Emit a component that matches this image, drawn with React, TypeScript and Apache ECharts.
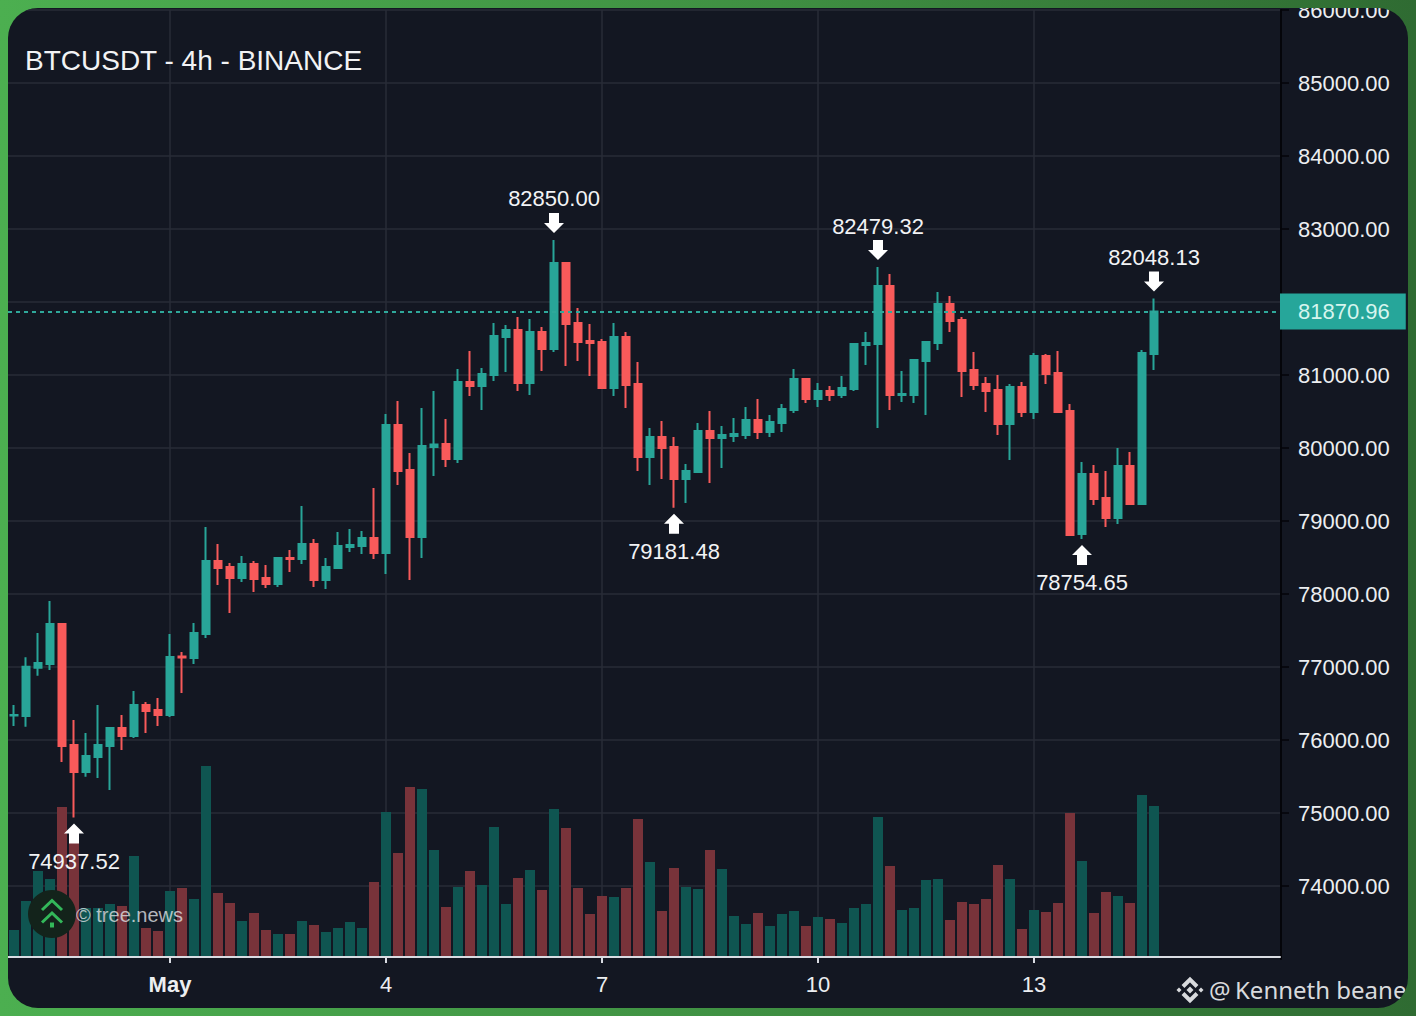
import React, { useEffect, useRef } from "react";
import * as echarts from "echarts";

const FONT = "'Liberation Sans', Arial, sans-serif";

// [open, close, low, high]
const candles: number[][] = [
  [76334,76342,76192,76479],[76329,77004,76182,77133],[76990,77055,76881,77466],[77041,77589,76959,77904],
  [77589,75918,75699,77603],[75932,75562,74937.52,76274],[75562,75781,75498,76096],[75767,75932,75479,76479],
  [75918,76164,75315,76178],[76164,76055,75863,76342],[76055,76479,76027,76671],[76479,76397,76096,76521],
  [76411,76342,76192,76575],[76342,77137,76315,77452],[77144,77130,76644,77205],[77123,77466,77041,77603],
  [77452,78452,77397,78918],[78452,78356,78123,78685],[78370,78219,77740,78425],[78219,78411,78164,78521],
  [78411,78205,78027,78452],[78219,78137,78082,78397],[78137,78493,78096,78500],[78493,78479,78301,78603],
  [78479,78685,78411,79205],[78685,78192,78096,78753],[78192,78370,78068,78493],[78356,78658,78342,78849],
  [78644,78671,78575,78890],[78658,78767,78548,78863],[78767,78562,78479,79452],[78562,80315,78274,80466],
  [80315,79685,79493,80644],[79699,78781,78192,79932],[78781,80027,78493,80548],[80014,80048,79616,80781],
  [80055,79849,79740,80397],[79849,80904,79795,81082],[80904,80849,80712,81329],[80849,81014,80521,81096],
  [81000,81534,80918,81712],[81521,81616,81041,81685],[81616,80890,80781,81795],[80890,81589,80726,81767],
  [81589,81356,81055,81658],[81356,82534,81315,82850],[82534,81699,81123,82548],[81712,81452,81192,81918],
  [81466,81438,80986,81699],[81452,80822,80815,81493],[80822,81521,80712,81712],[81521,80863,80548,81589],
  [80877,79877,79685,81178],[79877,80151,79493,80274],[80151,80000,79575,80370],[80014,79575,79181.48,80151],
  [79575,79685,79247,79781],[79671,80233,79658,80342],[80233,80137,79521,80507],[80137,80178,79726,80301],
  [80164,80192,80082,80411],[80178,80384,80123,80562],[80384,80219,80123,80671],[80219,80356,80151,80452],
  [80342,80534,80219,80603],[80521,80945,80479,81082],[80945,80671,80616,80950],[80671,80781,80562,80890],
  [80781,80726,80644,80849],[80726,80822,80685,80986],[80808,81425,80781,81438],[81411,81438,81137,81589],
  [81425,82219,80274,82479.32],[82219,80726,80521,82384],[80726,80740,80630,81055],[80726,81205,80616,81210],
  [81192,81452,80452,81466],[81438,81973,81342,82137],[81973,81740,81589,82082],[81753,81055,80699,81795],
  [81068,80863,80795,81315],[80877,80781,80493,80973],[80795,80329,80178,81000],[80329,80836,79836,80877],
  [80836,80493,80425,80904],[80493,81260,80397,81301],[81260,81014,80877,81288],[81027,80493,80479,81329],
  [80507,78808,78795,80603],[78822,79644,78754.65,79808],[79644,79301,79219,79767],[79315,79041,78918,79685],
  [79041,79753,78959,80000],[79753,79233,79219,79945],[79233,81301,79219,81342],[81288,81870.96,81068,82048.13],
];

const volumes: number[] = [
  2600,5500,8500,7700,14900,11300,4800,4800,5200,5000,10000,2800,2500,6500,6800,5700,
  19000,6300,5300,3500,4300,2600,2200,2200,3500,3100,2400,2800,3400,2800,7400,14400,
  10300,16900,16700,10600,4900,6900,8500,7100,12900,5200,7800,8600,6600,14700,12800,6800,
  4200,6000,5900,6800,13700,9400,4500,8800,6900,6700,10600,8700,4000,3200,4300,3000,
  4200,4500,3000,3900,3700,3300,4800,5200,13900,9000,4600,4800,7600,7700,3600,5400,
  5200,5700,9100,7700,2700,4600,4400,5300,14300,9500,4300,6400,6000,5300,16100,15000,
];

const categories: string[] = Array.from({ length: 106 }, (_, i) => `bar-${i}`);
const xTickLabels: Record<number, string> = { 13: "May", 31: "4", 49: "7", 67: "10", 85: "13" };
const hiddenPriceLabels = [73000, 82000];
const markerIdx = [5, 45, 55, 72, 89, 95];
const markerVal = [74937.52, 82850.0, 79181.48, 82479.32, 78754.65, 82048.13];
const markerDir = ["up", "down", "up", "down", "up", "down"];
const lastPrice = 81870.96;
const title = "BTCUSDT - 4h - BINANCE";

const UP = "#28a598";
const DOWN = "#f85a5a";
const VOL_UP = "#0f5551";
const VOL_DOWN = "#78333a";
const GRIDC = "#282c37";
const ARROW_UP = "path://M9 0 L19 10 L14 10 L14 20 L4 20 L4 10 L-1 10 Z";
const ARROW_DOWN = "path://M4 0 L14 0 L14 10 L19 10 L9 20 L-1 10 L4 10 Z";

const isTick = (i: number) => xTickLabels[i] !== undefined;

export default function App() {
  const ref = useRef<HTMLDivElement>(null);
  useEffect(() => {
    document.body.style.margin = "0";
    const chart = echarts.init(ref.current!, undefined, { renderer: "svg" });
    chart.setOption({
      animation: false,
      backgroundColor: "transparent",
      title: {
        text: title,
        left: 12,
        top: 33,
        textStyle: { color: "#f2f3f5", fontSize: 28, fontWeight: "normal", fontFamily: FONT },
      },
      grid: [
        { left: 0, top: 2, width: 1272, height: 949, outerBoundsMode: "none", containLabel: false },
        { left: 0, top: 684, width: 1272, height: 265, outerBoundsMode: "none", containLabel: false },
      ],
      xAxis: [
        {
          type: "category",
          gridIndex: 0,
          data: categories,
          boundaryGap: true,
          axisLine: { show: false },
          axisTick: { show: false },
          axisLabel: { show: false },
          splitLine: {
            show: true,
            alignWithLabel: true,
            interval: (i: number) => isTick(i),
            lineStyle: { color: GRIDC, width: 1.5 },
          },
        },
        {
          type: "category",
          gridIndex: 1,
          data: categories,
          boundaryGap: true,
          axisLine: { show: true, onZero: false, lineStyle: { color: "#d9dce3", width: 2 } },
          axisTick: {
            show: true,
            alignWithLabel: true,
            length: 6,
            interval: (i: number) => isTick(i),
            lineStyle: { color: "#d9dce3", width: 2 },
          },
          axisLabel: {
            show: true,
            margin: 16,
            interval: (i: number) => isTick(i),
            hideOverlap: false,
            formatter: (_: string, i: number) =>
              xTickLabels[i] === "May" ? "{b|May}" : xTickLabels[i] ?? "",
            color: "#eceef1",
            fontSize: 22,
            fontFamily: FONT,
            rich: { b: { fontWeight: "bold", fontSize: 22, color: "#eceef1", fontFamily: FONT } },
          },
          splitLine: { show: false },
        },
      ],
      yAxis: [
        {
          type: "value",
          gridIndex: 0,
          position: "right",
          offset: 1,
          min: 73000,
          max: 86000,
          interval: 1000,
          axisLine: { show: true, onZero: false, lineStyle: { color: "#04050a", width: 2 } },
          axisTick: { show: true, length: 8, lineStyle: { color: "#04050a", width: 1.5 } },
          axisLabel: {
            margin: 17,
            color: "#eceef1",
            fontSize: 22,
            fontFamily: FONT,
            showMinLabel: false,
            showMaxLabel: true,
            formatter: (v: number) => (hiddenPriceLabels.includes(v) ? "" : v.toFixed(2)),
          },
          splitLine: { show: true, showMinLine: false, lineStyle: { color: GRIDC, width: 1.5 } },
        },
        {
          type: "value",
          gridIndex: 1,
          min: -100,
          max: 26400,
          show: false,
          splitLine: { show: false },
        },
      ],
      series: [
        {
          type: "bar",
          xAxisIndex: 1,
          yAxisIndex: 1,
          barWidth: 10,
          z: 1,
          data: volumes.map((v, i) => ({
            value: v,
            itemStyle: { color: candles[i][1] >= candles[i][0] ? VOL_UP : VOL_DOWN },
          })),
        },
        {
          type: "candlestick",
          xAxisIndex: 0,
          yAxisIndex: 0,
          barWidth: 8,
          z: 3,
          itemStyle: {
            color: UP,
            color0: DOWN,
            borderColor: UP,
            borderColor0: DOWN,
            borderWidth: 2,
          },
          data: candles,
          markPoint: {
            z: 6,
            data: markerIdx.map((idx, k) => {
              const up = markerDir[k] === "up";
              return {
                coord: [categories[idx], markerVal[k]],
                value: markerVal[k],
                symbol: up ? ARROW_UP : ARROW_DOWN,
                symbolSize: [20, 20],
                symbolKeepAspect: false,
                symbolOffset: [0, up ? 16 : -17],
                itemStyle: { color: "#ffffff" },
                label: {
                  show: true,
                  position: up ? "bottom" : "top",
                  distance: up ? 7 : 3,
                  formatter: () => markerVal[k].toFixed(2),
                  color: "#f2f3f5",
                  fontSize: 22,
                  fontFamily: FONT,
                },
              };
            }),
          },
          markLine: {
            silent: true,
            symbol: "none",
            z: 4,
            lineStyle: { color: "#2fa89b", type: [4, 4], width: 1.8 },
            data: [{ yAxis: lastPrice }],
            label: {
              show: true,
              position: "end",
              distance: 0,
              formatter: () => lastPrice.toFixed(2),
              color: "#d6f5ee",
              backgroundColor: "#26a69a",
              fontSize: 22,
              fontFamily: FONT,
              padding: [7, 16, 7, 18],
            },
          },
        },
      ],
      graphic: [
        { type: "circle", shape: { cx: 44, cy: 906, r: 24 }, style: { fill: "#13231b" }, z: 10 },
        { type: "polyline", shape: { points: [[34, 902], [44, 892.5], [54, 902]] }, style: { fill: "none", stroke: "#33b85a", lineWidth: 3 }, z: 11 },
        { type: "polyline", shape: { points: [[34, 914.5], [44, 905], [54, 914.5]] }, style: { fill: "none", stroke: "#33b85a", lineWidth: 3 }, z: 11 },
        { type: "rect", shape: { x: 42, y: 914.5, width: 4, height: 5 }, style: { fill: "#33b85a" }, z: 11 },
        { type: "text", x: 68, y: 907, style: { text: "© tree.news", fill: "rgba(225,228,232,0.78)", font: `20px ${FONT}`, verticalAlign: "middle" }, z: 11 },
        { type: "polyline", shape: { points: [[1175, 978.5], [1182, 971.5], [1189, 978.5]] }, style: { fill: "none", stroke: "#d8dadd", lineWidth: 4 }, z: 11 },
        { type: "polyline", shape: { points: [[1175, 985.5], [1182, 992.5], [1189, 985.5]] }, style: { fill: "none", stroke: "#d8dadd", lineWidth: 4 }, z: 11 },
        { type: "polygon", shape: { points: [[1182, 978.5], [1185.5, 982], [1182, 985.5], [1178.5, 982]] }, style: { fill: "#d8dadd" }, z: 11 },
        { type: "polygon", shape: { points: [[1171, 979.5], [1173.5, 982], [1171, 984.5], [1168.5, 982]] }, style: { fill: "#d8dadd" }, z: 11 },
        { type: "polygon", shape: { points: [[1193, 979.5], [1195.5, 982], [1193, 984.5], [1190.5, 982]] }, style: { fill: "#d8dadd" }, z: 11 },
        { type: "text", x: 1201, y: 981, style: { text: "@", fill: "#d8dadd", font: `24px 'Noto Sans', sans-serif`, verticalAlign: "middle" }, z: 11 },
        { type: "text", x: 1227, y: 981, style: { text: "Kenneth beane", fill: "#d8dadd", font: `24px 'Noto Sans', sans-serif`, verticalAlign: "middle" }, z: 11 },
      ],
    });
    return () => chart.dispose();
  }, []);
  return (
    <div
      style={{
        position: "relative",
        width: 1416,
        height: 1016,
        overflow: "hidden",
        background: "linear-gradient(90deg, #4caf50 0%, #3f8f42 55%, #2f6b32 100%)",
      }}
    >
      <div
        style={{
          position: "absolute",
          left: 8,
          top: 8,
          width: 1400,
          height: 1000,
          background: "#131722",
          borderRadius: 30,
          overflow: "hidden",
        }}
      >
        <div ref={ref} style={{ width: 1400, height: 1000 }} />
      </div>
    </div>
  );
}
